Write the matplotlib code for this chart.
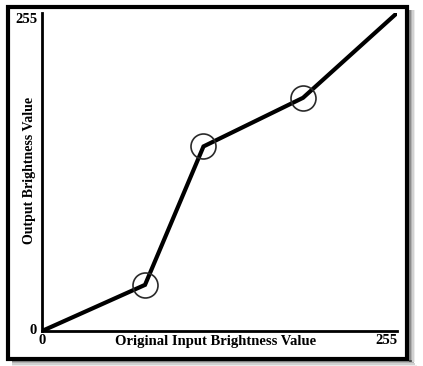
import matplotlib
matplotlib.use("Agg")
import matplotlib.pyplot as plt
from matplotlib.patches import Rectangle
from matplotlib.transforms import blended_transform_factory

# Data
x_vals = [0, 74, 116, 187.5, 255]
y_vals = [0, 37, 148, 187, 255]
knot_x = [74, 116, 187.5]
knot_y = [37, 148, 187]
x_label = "Original Input Brightness Value"
y_label = "Output Brightness Value"
x_ticks = [0, 255]
y_ticks = [0, 255]

W, H = 423, 366
fig = plt.figure(figsize=(W / 100, H / 100), dpi=100)
fig.patch.set_facecolor("white")

def fx(px):
    return px / W

def fy(py):
    return 1 - py / H

# soft shadow on right and bottom
for i, a in enumerate([0.45, 0.3, 0.18, 0.08]):
    fig.patches.append(Rectangle((fx(409 + i * 1.5), fy(362)), fx(1.6), fy(10) - fy(362),
                                 transform=fig.transFigure, color="black", alpha=a, lw=0))
    fig.patches.append(Rectangle((fx(12), fy(360 + i * 1.5) - (fy(0) - fy(1.6))),
                                 fx(400 + i * 1.5), fy(0) - fy(1.6),
                                 transform=fig.transFigure, color="black", alpha=a, lw=0))

# outer frame
fig.patches.append(Rectangle((fx(8), fy(358.5)), fx(407 - 8), fy(6.5) - fy(358.5),
                             transform=fig.transFigure, fill=False, ec="black", lw=3.0))

ax = fig.add_axes([fx(42), fy(331), fx(397 - 42), fy(13) - fy(331)])
ax.set_xlim(0, 255)
ax.set_ylim(0, 255)
for s in ["top", "right"]:
    ax.spines[s].set_visible(False)
for s in ["left", "bottom"]:
    ax.spines[s].set_linewidth(2.0)
    ax.spines[s].set_color("black")
ax.set_xticks([])
ax.set_yticks([])
ax.patch.set_alpha(0)

ax.plot(x_vals, y_vals, color="black", lw=3.0, solid_capstyle="butt",
        solid_joinstyle="miter", zorder=3)
ax.plot(knot_x, knot_y, linestyle="none", marker="o", markersize=18,
        markerfacecolor="none", markeredgecolor="#2a2a2a", markeredgewidth=1.2, zorder=4)

font = dict(family="Liberation Serif", fontweight="bold", color="black")

tx = blended_transform_factory(ax.transData, fig.transFigure)
ax.text(x_ticks[0], fy(341), "0", transform=tx, ha="center", va="center", fontsize=10.5, **font)
ax.text(x_ticks[1], fy(341), "255", transform=tx, ha="right", va="center", fontsize=10.5, **font)
ty = blended_transform_factory(fig.transFigure, ax.transData)
ax.text(fx(37), y_ticks[0], "0", transform=ty, ha="right", va="center", fontsize=10.5, **font)
ax.text(fx(37), y_ticks[1], "255", transform=ty, ha="right", va="top", fontsize=10.5, **font)

fig.text(fx(216), fy(341), x_label, ha="center", va="center", fontsize=10.5, **font)
fig.text(fx(29), fy(170), y_label, ha="center", va="center", rotation=90, fontsize=10, **font)

fig.savefig("out.png", dpi=100)
